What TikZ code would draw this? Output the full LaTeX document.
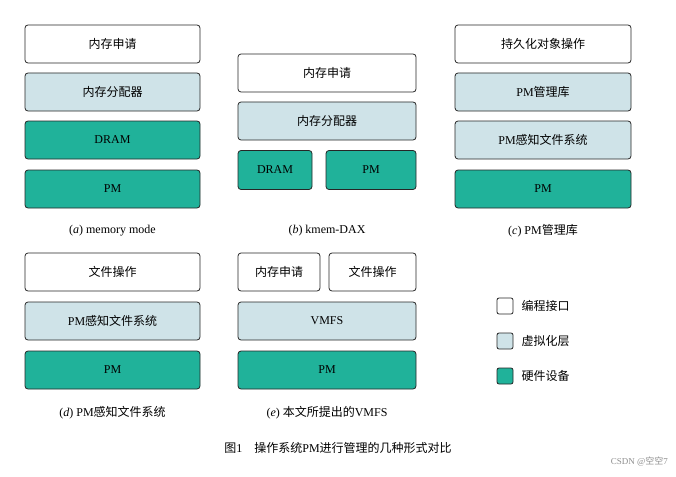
\documentclass[tikz,border=0pt]{standalone}
\usepackage{fontspec}
\setmainfont{Liberation Serif}
\newfontfamily\cjk{Noto Sans CJK SC}
\newcommand{\zh}[1]{{\cjk #1}}
\usetikzlibrary{positioning}
\definecolor{virt}{HTML}{CFE3E8}
\definecolor{hw}{HTML}{20B29A}
\begin{document}
\begin{tikzpicture}[x=1pt, y=-1pt, font=\fontsize{12}{14}\selectfont,
    iface/.style={draw=black!85, thick, rounded corners=3pt, fill=white, inner sep=0pt},
    layer/.style={iface, fill=virt},
    dev/.style={iface, fill=hw},
    label text/.style={inner sep=0pt}]
    \useasboundingbox (0,0) rectangle (676,476);

    % (a)
    \node[iface, minimum width=175, minimum height=38](aReq) at (112.5,44) {\zh{内存申请}};
    \node[layer, minimum width=175, minimum height=38](aAlloc) at (112.5,92) {\zh{内存分配器}};
    \node[dev, minimum width=175, minimum height=38](aDram) at (112.5,140) {DRAM};
    \node[dev, minimum width=175, minimum height=38](aPm) at (112.5,189) {PM};
    \node[label text](aCap) at (112.5,231) {(\textit{a}) memory mode};

    % (b)
    \node[iface, minimum width=178, minimum height=38](bReq) at (327,73) {\zh{内存申请}};
    \node[layer, minimum width=178, minimum height=38](bAlloc) at (327,121) {\zh{内存分配器}};
    \node[dev, minimum width=74, minimum height=39](bDram) at (275,170) {DRAM};
    \node[dev, minimum width=90, minimum height=39](bPm) at (371,170) {PM};
    \node[label text](bCap) at (327,231) {(\textit{b}) kmem-DAX};

    % (c)
    \node[iface, minimum width=176, minimum height=38](cOp) at (543,44) {\zh{持久化对象操作}};
    \node[layer, minimum width=176, minimum height=38](cLib) at (543,92) {PM\zh{管理库}};
    \node[layer, minimum width=176, minimum height=38](cFs) at (543,140) {PM\zh{感知文件系统}};
    \node[dev, minimum width=176, minimum height=38](cPm) at (543,189) {PM};
    \node[label text](cCap) at (543,231) {(\textit{c}) PM\zh{管理库}};

    % (d)
    \node[iface, minimum width=175, minimum height=38](dOp) at (112.5,272) {\zh{文件操作}};
    \node[layer, minimum width=175, minimum height=38](dFs) at (112.5,321) {PM\zh{感知文件系统}};
    \node[dev, minimum width=175, minimum height=38](dPm) at (112.5,370) {PM};
    \node[label text](dCap) at (112.5,413) {(\textit{d}) PM\zh{感知文件系统}};

    % (e)
    \node[iface, minimum width=82, minimum height=38](eReq) at (279,272) {\zh{内存申请}};
    \node[iface, minimum width=87, minimum height=38](eOp) at (372.5,272) {\zh{文件操作}};
    \node[layer, minimum width=178, minimum height=38](eVm) at (327,321) {VMFS};
    \node[dev, minimum width=178, minimum height=38](ePm) at (327,370) {PM};
    \node[label text](eCap) at (327,413) {(\textit{e}) \zh{本文所提出的}VMFS};

    % legend
    \node[iface, minimum size=16, rounded corners=2pt](kIface) at (505,306) {};
    \node[right=8 of kIface, label text](kIfaceT) {\zh{编程接口}};
    \node[layer, minimum size=16, rounded corners=2pt](kLayer) at (505,341) {};
    \node[right=8 of kLayer, label text](kLayerT) {\zh{虚拟化层}};
    \node[dev, minimum size=16, rounded corners=2pt](kDev) at (505,376) {};
    \node[right=8 of kDev, label text](kDevT) {\zh{硬件设备}};

    \node[label text](fig) at (338,448) {\zh{图}1\quad\zh{操作系统}PM\zh{进行管理的几种形式对比}};
    \node[label text, text=black!45, font=\fontsize{9}{10}\selectfont, anchor=east](mark) at (668,462) {CSDN @\zh{空空}7};
\end{tikzpicture}
\end{document}
